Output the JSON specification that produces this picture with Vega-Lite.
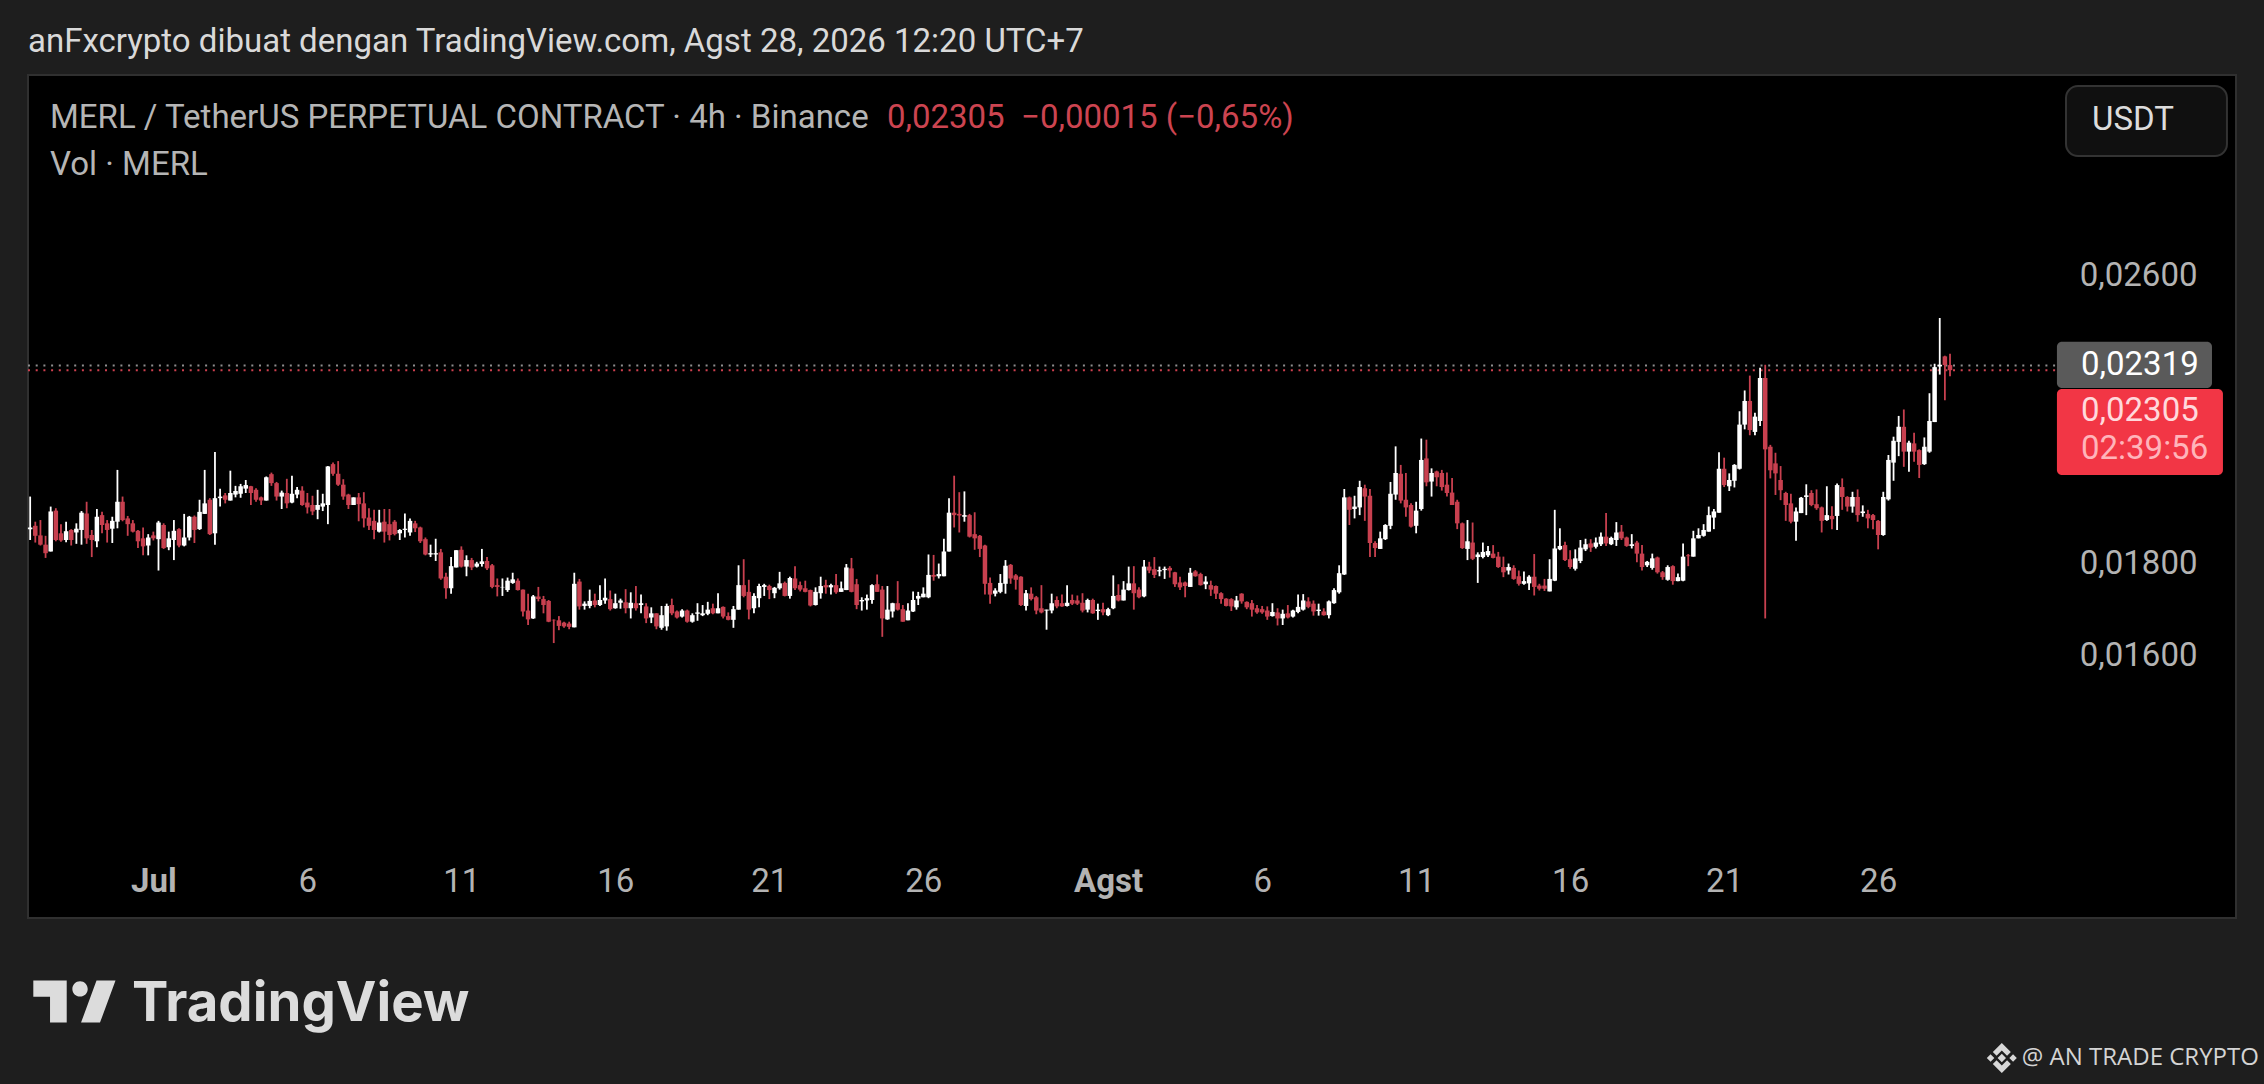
{
"$schema":"https://vega.github.io/schema/vega-lite/v6.json",
"width":2208,"height":843,
"autosize":{"type":"none"},
"padding":{"left":28,"top":75,"right":28,"bottom":166},
"background":"#1e1e1e",
"view":{"fill":"#000000","stroke":"#303030","strokeWidth":2},
"title":{"text":"anFxcrypto dibuat dengan TradingView.com, Agst 28, 2026 12:20 UTC+7","anchor":"start","frame":"group","font":"Roboto","fontSize":33,"fontWeight":"normal","color":"#d9d9d9","offset":16},
"config":{"font":"Roboto"},
"datasets":{"candles":[
{"t":"2026-06-27T03:00Z","o":0.01881,"h":0.01961,"l":0.01855,"c":0.01885},
{"t":"2026-06-27T07:00Z","o":0.01889,"h":0.01899,"l":0.01849,"c":0.01865},
{"t":"2026-06-27T11:00Z","o":0.01866,"h":0.01903,"l":0.01842,"c":0.01844},
{"t":"2026-06-27T15:00Z","o":0.01844,"h":0.01865,"l":0.01813,"c":0.01824},
{"t":"2026-06-27T19:00Z","o":0.01828,"h":0.01936,"l":0.01828,"c":0.01924},
{"t":"2026-06-27T23:00Z","o":0.01926,"h":0.01932,"l":0.01852,"c":0.01855},
{"t":"2026-06-28T03:00Z","o":0.01871,"h":0.01893,"l":0.01851,"c":0.01854},
{"t":"2026-06-28T07:00Z","o":0.01855,"h":0.01899,"l":0.01850,"c":0.01876},
{"t":"2026-06-28T11:00Z","o":0.01879,"h":0.01881,"l":0.01842,"c":0.01855},
{"t":"2026-06-28T15:00Z","o":0.01873,"h":0.01895,"l":0.01846,"c":0.01882},
{"t":"2026-06-28T19:00Z","o":0.01879,"h":0.01925,"l":0.01844,"c":0.01921},
{"t":"2026-06-28T23:00Z","o":0.01919,"h":0.01948,"l":0.01846,"c":0.01859},
{"t":"2026-06-29T03:00Z","o":0.01867,"h":0.01879,"l":0.01815,"c":0.01855},
{"t":"2026-06-29T07:00Z","o":0.01852,"h":0.01930,"l":0.01838,"c":0.01911},
{"t":"2026-06-29T11:00Z","o":0.01915,"h":0.01923,"l":0.01871,"c":0.01891},
{"t":"2026-06-29T15:00Z","o":0.01895,"h":0.01903,"l":0.01849,"c":0.01879},
{"t":"2026-06-29T19:00Z","o":0.01882,"h":0.01911,"l":0.01848,"c":0.01901},
{"t":"2026-06-29T23:00Z","o":0.01899,"h":0.02029,"l":0.01883,"c":0.01948},
{"t":"2026-06-30T03:00Z","o":0.01948,"h":0.01961,"l":0.01900,"c":0.01903},
{"t":"2026-06-30T07:00Z","o":0.01907,"h":0.01913,"l":0.01865,"c":0.01893},
{"t":"2026-06-30T11:00Z","o":0.01895,"h":0.01903,"l":0.01873,"c":0.01875},
{"t":"2026-06-30T15:00Z","o":0.01877,"h":0.01879,"l":0.01836,"c":0.01852},
{"t":"2026-06-30T19:00Z","o":0.01859,"h":0.01885,"l":0.01819,"c":0.01840},
{"t":"2026-06-30T23:00Z","o":0.01842,"h":0.01869,"l":0.01819,"c":0.01861},
{"t":"2026-07-01T03:00Z","o":0.01866,"h":0.01875,"l":0.01854,"c":0.01859},
{"t":"2026-07-01T07:00Z","o":0.01857,"h":0.01901,"l":0.01784,"c":0.01897},
{"t":"2026-07-01T11:00Z","o":0.01891,"h":0.01895,"l":0.01834,"c":0.01836},
{"t":"2026-07-01T15:00Z","o":0.01838,"h":0.01875,"l":0.01831,"c":0.01859},
{"t":"2026-07-01T19:00Z","o":0.01855,"h":0.01903,"l":0.01808,"c":0.01877},
{"t":"2026-07-01T23:00Z","o":0.01881,"h":0.01883,"l":0.01838,"c":0.01842},
{"t":"2026-07-02T03:00Z","o":0.01842,"h":0.01918,"l":0.01840,"c":0.01861},
{"t":"2026-07-02T07:00Z","o":0.01861,"h":0.01913,"l":0.01854,"c":0.01911},
{"t":"2026-07-02T11:00Z","o":0.01911,"h":0.01914,"l":0.01848,"c":0.01879},
{"t":"2026-07-02T15:00Z","o":0.01881,"h":0.01953,"l":0.01879,"c":0.01923},
{"t":"2026-07-02T19:00Z","o":0.01918,"h":0.02029,"l":0.01918,"c":0.01944},
{"t":"2026-07-02T23:00Z","o":0.01953,"h":0.01957,"l":0.01867,"c":0.01869},
{"t":"2026-07-03T03:00Z","o":0.01871,"h":0.02076,"l":0.01844,"c":0.01957},
{"t":"2026-07-03T07:00Z","o":0.01957,"h":0.01981,"l":0.01936,"c":0.01961},
{"t":"2026-07-03T11:00Z","o":0.01964,"h":0.01970,"l":0.01944,"c":0.01953},
{"t":"2026-07-03T15:00Z","o":0.01951,"h":0.02027,"l":0.01951,"c":0.01970},
{"t":"2026-07-03T19:00Z","o":0.01966,"h":0.01988,"l":0.01959,"c":0.01975},
{"t":"2026-07-03T23:00Z","o":0.01968,"h":0.01993,"l":0.01958,"c":0.01987},
{"t":"2026-07-04T03:00Z","o":0.01981,"h":0.02003,"l":0.01970,"c":0.01990},
{"t":"2026-07-04T07:00Z","o":0.01987,"h":0.01988,"l":0.01940,"c":0.01970},
{"t":"2026-07-04T11:00Z","o":0.01978,"h":0.01982,"l":0.01948,"c":0.01953},
{"t":"2026-07-04T15:00Z","o":0.01959,"h":0.01961,"l":0.01940,"c":0.01951},
{"t":"2026-07-04T19:00Z","o":0.01951,"h":0.02012,"l":0.01951,"c":0.02010},
{"t":"2026-07-04T23:00Z","o":0.02018,"h":0.02022,"l":0.01988,"c":0.01995},
{"t":"2026-07-05T03:00Z","o":0.01995,"h":0.01998,"l":0.01951,"c":0.01961},
{"t":"2026-07-05T07:00Z","o":0.01961,"h":0.01976,"l":0.01930,"c":0.01971},
{"t":"2026-07-05T11:00Z","o":0.01970,"h":0.02006,"l":0.01932,"c":0.01944},
{"t":"2026-07-05T15:00Z","o":0.01946,"h":0.02014,"l":0.01944,"c":0.01968},
{"t":"2026-07-05T19:00Z","o":0.01966,"h":0.01985,"l":0.01957,"c":0.01978},
{"t":"2026-07-05T23:00Z","o":0.01976,"h":0.01987,"l":0.01938,"c":0.01940},
{"t":"2026-07-06T03:00Z","o":0.01946,"h":0.01970,"l":0.01919,"c":0.01934},
{"t":"2026-07-06T07:00Z","o":0.01940,"h":0.01963,"l":0.01915,"c":0.01924},
{"t":"2026-07-06T11:00Z","o":0.01928,"h":0.01978,"l":0.01905,"c":0.01940},
{"t":"2026-07-06T15:00Z","o":0.01936,"h":0.01968,"l":0.01925,"c":0.01944},
{"t":"2026-07-06T19:00Z","o":0.01940,"h":0.02039,"l":0.01893,"c":0.02038},
{"t":"2026-07-06T23:00Z","o":0.02044,"h":0.02048,"l":0.02014,"c":0.02019},
{"t":"2026-07-07T03:00Z","o":0.02019,"h":0.02052,"l":0.01988,"c":0.01991},
{"t":"2026-07-07T07:00Z","o":0.01991,"h":0.02005,"l":0.01953,"c":0.01961},
{"t":"2026-07-07T11:00Z","o":0.01966,"h":0.01968,"l":0.01930,"c":0.01940},
{"t":"2026-07-07T15:00Z","o":0.01940,"h":0.01959,"l":0.01940,"c":0.01959},
{"t":"2026-07-07T19:00Z","o":0.01959,"h":0.01970,"l":0.01900,"c":0.01942},
{"t":"2026-07-07T23:00Z","o":0.01944,"h":0.01972,"l":0.01885,"c":0.01907},
{"t":"2026-07-08T03:00Z","o":0.01909,"h":0.01932,"l":0.01879,"c":0.01889},
{"t":"2026-07-08T07:00Z","o":0.01901,"h":0.01928,"l":0.01857,"c":0.01879},
{"t":"2026-07-08T11:00Z","o":0.01875,"h":0.01928,"l":0.01873,"c":0.01897},
{"t":"2026-07-08T15:00Z","o":0.01899,"h":0.01930,"l":0.01849,"c":0.01875},
{"t":"2026-07-08T19:00Z","o":0.01893,"h":0.01930,"l":0.01854,"c":0.01867},
{"t":"2026-07-08T23:00Z","o":0.01899,"h":0.01903,"l":0.01866,"c":0.01869},
{"t":"2026-07-09T03:00Z","o":0.01871,"h":0.01881,"l":0.01855,"c":0.01879},
{"t":"2026-07-09T07:00Z","o":0.01879,"h":0.01919,"l":0.01861,"c":0.01882},
{"t":"2026-07-09T11:00Z","o":0.01873,"h":0.01907,"l":0.01865,"c":0.01901},
{"t":"2026-07-09T15:00Z","o":0.01895,"h":0.01901,"l":0.01874,"c":0.01883},
{"t":"2026-07-09T19:00Z","o":0.01885,"h":0.01887,"l":0.01848,"c":0.01852},
{"t":"2026-07-09T23:00Z","o":0.01857,"h":0.01861,"l":0.01819,"c":0.01821},
{"t":"2026-07-10T03:00Z","o":0.01821,"h":0.01844,"l":0.01815,"c":0.01824},
{"t":"2026-07-10T07:00Z","o":0.01821,"h":0.01858,"l":0.01806,"c":0.01824},
{"t":"2026-07-10T11:00Z","o":0.01826,"h":0.01834,"l":0.01763,"c":0.01766},
{"t":"2026-07-10T15:00Z","o":0.01770,"h":0.01779,"l":0.01721,"c":0.01744},
{"t":"2026-07-10T19:00Z","o":0.01744,"h":0.01815,"l":0.01732,"c":0.01794},
{"t":"2026-07-10T23:00Z","o":0.01791,"h":0.01831,"l":0.01791,"c":0.01831},
{"t":"2026-07-11T03:00Z","o":0.01832,"h":0.01840,"l":0.01791,"c":0.01793},
{"t":"2026-07-11T07:00Z","o":0.01793,"h":0.01819,"l":0.01771,"c":0.01808},
{"t":"2026-07-11T11:00Z","o":0.01808,"h":0.01813,"l":0.01785,"c":0.01791},
{"t":"2026-07-11T15:00Z","o":0.01793,"h":0.01804,"l":0.01791,"c":0.01800},
{"t":"2026-07-11T19:00Z","o":0.01799,"h":0.01834,"l":0.01793,"c":0.01805},
{"t":"2026-07-11T23:00Z","o":0.01806,"h":0.01815,"l":0.01785,"c":0.01789},
{"t":"2026-07-12T03:00Z","o":0.01796,"h":0.01799,"l":0.01744,"c":0.01747},
{"t":"2026-07-12T07:00Z","o":0.01751,"h":0.01766,"l":0.01726,"c":0.01747},
{"t":"2026-07-12T11:00Z","o":0.01746,"h":0.01766,"l":0.01727,"c":0.01747},
{"t":"2026-07-12T15:00Z","o":0.01740,"h":0.01768,"l":0.01736,"c":0.01761},
{"t":"2026-07-12T19:00Z","o":0.01756,"h":0.01779,"l":0.01754,"c":0.01764},
{"t":"2026-07-12T23:00Z","o":0.01761,"h":0.01766,"l":0.01739,"c":0.01740},
{"t":"2026-07-13T03:00Z","o":0.01741,"h":0.01741,"l":0.01682,"c":0.01693},
{"t":"2026-07-13T07:00Z","o":0.01695,"h":0.01732,"l":0.01664,"c":0.01676},
{"t":"2026-07-13T11:00Z","o":0.01678,"h":0.01729,"l":0.01677,"c":0.01726},
{"t":"2026-07-13T15:00Z","o":0.01726,"h":0.01747,"l":0.01715,"c":0.01720},
{"t":"2026-07-13T19:00Z","o":0.01720,"h":0.01727,"l":0.01689,"c":0.01707},
{"t":"2026-07-13T23:00Z","o":0.01716,"h":0.01718,"l":0.01670,"c":0.01671},
{"t":"2026-07-14T03:00Z","o":0.01675,"h":0.01676,"l":0.01626,"c":0.01674},
{"t":"2026-07-14T07:00Z","o":0.01674,"h":0.01683,"l":0.01653,"c":0.01662},
{"t":"2026-07-14T11:00Z","o":0.01669,"h":0.01671,"l":0.01658,"c":0.01661},
{"t":"2026-07-14T15:00Z","o":0.01667,"h":0.01671,"l":0.01655,"c":0.01660},
{"t":"2026-07-14T19:00Z","o":0.01659,"h":0.01779,"l":0.01659,"c":0.01754},
{"t":"2026-07-14T23:00Z","o":0.01759,"h":0.01765,"l":0.01697,"c":0.01704},
{"t":"2026-07-15T03:00Z","o":0.01705,"h":0.01715,"l":0.01697,"c":0.01710},
{"t":"2026-07-15T07:00Z","o":0.01705,"h":0.01741,"l":0.01700,"c":0.01716},
{"t":"2026-07-15T11:00Z","o":0.01717,"h":0.01732,"l":0.01702,"c":0.01707},
{"t":"2026-07-15T15:00Z","o":0.01707,"h":0.01751,"l":0.01705,"c":0.01718},
{"t":"2026-07-15T19:00Z","o":0.01717,"h":0.01766,"l":0.01710,"c":0.01723},
{"t":"2026-07-15T23:00Z","o":0.01720,"h":0.01739,"l":0.01695,"c":0.01698},
{"t":"2026-07-16T03:00Z","o":0.01700,"h":0.01732,"l":0.01699,"c":0.01711},
{"t":"2026-07-16T07:00Z","o":0.01712,"h":0.01721,"l":0.01699,"c":0.01717},
{"t":"2026-07-16T11:00Z","o":0.01713,"h":0.01742,"l":0.01689,"c":0.01700},
{"t":"2026-07-16T15:00Z","o":0.01700,"h":0.01735,"l":0.01678,"c":0.01712},
{"t":"2026-07-16T19:00Z","o":0.01711,"h":0.01749,"l":0.01695,"c":0.01700},
{"t":"2026-07-16T23:00Z","o":0.01707,"h":0.01730,"l":0.01689,"c":0.01711},
{"t":"2026-07-17T03:00Z","o":0.01704,"h":0.01711,"l":0.01668,"c":0.01678},
{"t":"2026-07-17T07:00Z","o":0.01680,"h":0.01702,"l":0.01668,"c":0.01689},
{"t":"2026-07-17T11:00Z","o":0.01689,"h":0.01689,"l":0.01655,"c":0.01661},
{"t":"2026-07-17T15:00Z","o":0.01658,"h":0.01705,"l":0.01654,"c":0.01685},
{"t":"2026-07-17T19:00Z","o":0.01661,"h":0.01710,"l":0.01652,"c":0.01705},
{"t":"2026-07-17T23:00Z","o":0.01707,"h":0.01721,"l":0.01685,"c":0.01689},
{"t":"2026-07-18T03:00Z","o":0.01693,"h":0.01695,"l":0.01678,"c":0.01680},
{"t":"2026-07-18T07:00Z","o":0.01682,"h":0.01698,"l":0.01680,"c":0.01695},
{"t":"2026-07-18T11:00Z","o":0.01695,"h":0.01697,"l":0.01669,"c":0.01671},
{"t":"2026-07-18T15:00Z","o":0.01671,"h":0.01689,"l":0.01669,"c":0.01685},
{"t":"2026-07-18T19:00Z","o":0.01688,"h":0.01711,"l":0.01673,"c":0.01691},
{"t":"2026-07-18T23:00Z","o":0.01685,"h":0.01707,"l":0.01683,"c":0.01689},
{"t":"2026-07-19T03:00Z","o":0.01688,"h":0.01714,"l":0.01685,"c":0.01697},
{"t":"2026-07-19T07:00Z","o":0.01700,"h":0.01710,"l":0.01687,"c":0.01689},
{"t":"2026-07-19T11:00Z","o":0.01689,"h":0.01733,"l":0.01689,"c":0.01700},
{"t":"2026-07-19T15:00Z","o":0.01703,"h":0.01704,"l":0.01678,"c":0.01682},
{"t":"2026-07-19T19:00Z","o":0.01683,"h":0.01691,"l":0.01674,"c":0.01675},
{"t":"2026-07-19T23:00Z","o":0.01675,"h":0.01705,"l":0.01658,"c":0.01698},
{"t":"2026-07-20T03:00Z","o":0.01697,"h":0.01796,"l":0.01697,"c":0.01751},
{"t":"2026-07-20T07:00Z","o":0.01751,"h":0.01810,"l":0.01724,"c":0.01727},
{"t":"2026-07-20T11:00Z","o":0.01736,"h":0.01763,"l":0.01676,"c":0.01697},
{"t":"2026-07-20T15:00Z","o":0.01700,"h":0.01733,"l":0.01689,"c":0.01727},
{"t":"2026-07-20T19:00Z","o":0.01722,"h":0.01754,"l":0.01702,"c":0.01749},
{"t":"2026-07-20T23:00Z","o":0.01747,"h":0.01754,"l":0.01727,"c":0.01751},
{"t":"2026-07-21T03:00Z","o":0.01749,"h":0.01752,"l":0.01720,"c":0.01740},
{"t":"2026-07-21T07:00Z","o":0.01733,"h":0.01747,"l":0.01722,"c":0.01745},
{"t":"2026-07-21T11:00Z","o":0.01744,"h":0.01781,"l":0.01741,"c":0.01755},
{"t":"2026-07-21T15:00Z","o":0.01756,"h":0.01759,"l":0.01726,"c":0.01727},
{"t":"2026-07-21T19:00Z","o":0.01727,"h":0.01770,"l":0.01721,"c":0.01767},
{"t":"2026-07-21T23:00Z","o":0.01766,"h":0.01794,"l":0.01740,"c":0.01744},
{"t":"2026-07-22T03:00Z","o":0.01751,"h":0.01759,"l":0.01737,"c":0.01741},
{"t":"2026-07-22T07:00Z","o":0.01744,"h":0.01761,"l":0.01735,"c":0.01736},
{"t":"2026-07-22T11:00Z","o":0.01740,"h":0.01741,"l":0.01704,"c":0.01706},
{"t":"2026-07-22T15:00Z","o":0.01707,"h":0.01746,"l":0.01706,"c":0.01736},
{"t":"2026-07-22T19:00Z","o":0.01733,"h":0.01770,"l":0.01721,"c":0.01749},
{"t":"2026-07-22T23:00Z","o":0.01751,"h":0.01763,"l":0.01732,"c":0.01746},
{"t":"2026-07-23T03:00Z","o":0.01746,"h":0.01754,"l":0.01730,"c":0.01751},
{"t":"2026-07-23T07:00Z","o":0.01751,"h":0.01776,"l":0.01732,"c":0.01735},
{"t":"2026-07-23T11:00Z","o":0.01736,"h":0.01759,"l":0.01736,"c":0.01744},
{"t":"2026-07-23T15:00Z","o":0.01740,"h":0.01799,"l":0.01740,"c":0.01791},
{"t":"2026-07-23T19:00Z","o":0.01789,"h":0.01813,"l":0.01735,"c":0.01736},
{"t":"2026-07-23T23:00Z","o":0.01753,"h":0.01765,"l":0.01698,"c":0.01707},
{"t":"2026-07-24T03:00Z","o":0.01715,"h":0.01724,"l":0.01695,"c":0.01718},
{"t":"2026-07-24T07:00Z","o":0.01717,"h":0.01730,"l":0.01697,"c":0.01722},
{"t":"2026-07-24T11:00Z","o":0.01718,"h":0.01753,"l":0.01710,"c":0.01751},
{"t":"2026-07-24T15:00Z","o":0.01753,"h":0.01775,"l":0.01736,"c":0.01736},
{"t":"2026-07-24T19:00Z","o":0.01741,"h":0.01749,"l":0.01639,"c":0.01678},
{"t":"2026-07-24T23:00Z","o":0.01676,"h":0.01749,"l":0.01675,"c":0.01697},
{"t":"2026-07-25T03:00Z","o":0.01693,"h":0.01712,"l":0.01680,"c":0.01711},
{"t":"2026-07-25T07:00Z","o":0.01711,"h":0.01760,"l":0.01695,"c":0.01697},
{"t":"2026-07-25T11:00Z","o":0.01698,"h":0.01707,"l":0.01671,"c":0.01671},
{"t":"2026-07-25T15:00Z","o":0.01674,"h":0.01711,"l":0.01674,"c":0.01695},
{"t":"2026-07-25T19:00Z","o":0.01693,"h":0.01737,"l":0.01692,"c":0.01718},
{"t":"2026-07-25T23:00Z","o":0.01721,"h":0.01736,"l":0.01707,"c":0.01727},
{"t":"2026-07-26T03:00Z","o":0.01724,"h":0.01746,"l":0.01724,"c":0.01732},
{"t":"2026-07-26T07:00Z","o":0.01724,"h":0.01821,"l":0.01722,"c":0.01774},
{"t":"2026-07-26T11:00Z","o":0.01774,"h":0.01820,"l":0.01761,"c":0.01770},
{"t":"2026-07-26T15:00Z","o":0.01771,"h":0.01800,"l":0.01766,"c":0.01776},
{"t":"2026-07-26T19:00Z","o":0.01771,"h":0.01858,"l":0.01771,"c":0.01828},
{"t":"2026-07-26T23:00Z","o":0.01828,"h":0.01957,"l":0.01828,"c":0.01921},
{"t":"2026-07-27T03:00Z","o":0.01921,"h":0.02014,"l":0.01885,"c":0.01915},
{"t":"2026-07-27T07:00Z","o":0.01918,"h":0.01972,"l":0.01873,"c":0.01914},
{"t":"2026-07-27T11:00Z","o":0.01911,"h":0.01974,"l":0.01899,"c":0.01915},
{"t":"2026-07-27T15:00Z","o":0.01915,"h":0.01918,"l":0.01861,"c":0.01863},
{"t":"2026-07-27T19:00Z","o":0.01869,"h":0.01922,"l":0.01832,"c":0.01859},
{"t":"2026-07-27T23:00Z","o":0.01865,"h":0.01867,"l":0.01815,"c":0.01834},
{"t":"2026-07-28T03:00Z","o":0.01842,"h":0.01844,"l":0.01730,"c":0.01754},
{"t":"2026-07-28T07:00Z","o":0.01756,"h":0.01768,"l":0.01710,"c":0.01730},
{"t":"2026-07-28T11:00Z","o":0.01732,"h":0.01744,"l":0.01726,"c":0.01739},
{"t":"2026-07-28T15:00Z","o":0.01736,"h":0.01776,"l":0.01733,"c":0.01756},
{"t":"2026-07-28T19:00Z","o":0.01754,"h":0.01808,"l":0.01732,"c":0.01795},
{"t":"2026-07-28T23:00Z","o":0.01797,"h":0.01799,"l":0.01754,"c":0.01766},
{"t":"2026-07-29T03:00Z","o":0.01773,"h":0.01776,"l":0.01741,"c":0.01763},
{"t":"2026-07-29T07:00Z","o":0.01770,"h":0.01771,"l":0.01705,"c":0.01707},
{"t":"2026-07-29T11:00Z","o":0.01705,"h":0.01740,"l":0.01695,"c":0.01733},
{"t":"2026-07-29T15:00Z","o":0.01732,"h":0.01746,"l":0.01717,"c":0.01720},
{"t":"2026-07-29T19:00Z","o":0.01724,"h":0.01727,"l":0.01687,"c":0.01695},
{"t":"2026-07-29T23:00Z","o":0.01700,"h":0.01751,"l":0.01689,"c":0.01691},
{"t":"2026-07-30T03:00Z","o":0.01695,"h":0.01697,"l":0.01654,"c":0.01697},
{"t":"2026-07-30T07:00Z","o":0.01695,"h":0.01732,"l":0.01689,"c":0.01711},
{"t":"2026-07-30T11:00Z","o":0.01718,"h":0.01726,"l":0.01700,"c":0.01704},
{"t":"2026-07-30T15:00Z","o":0.01711,"h":0.01730,"l":0.01703,"c":0.01704},
{"t":"2026-07-30T19:00Z","o":0.01705,"h":0.01751,"l":0.01704,"c":0.01712},
{"t":"2026-07-30T23:00Z","o":0.01718,"h":0.01730,"l":0.01707,"c":0.01710},
{"t":"2026-07-31T03:00Z","o":0.01717,"h":0.01728,"l":0.01707,"c":0.01710},
{"t":"2026-07-31T07:00Z","o":0.01712,"h":0.01733,"l":0.01691,"c":0.01695},
{"t":"2026-07-31T11:00Z","o":0.01697,"h":0.01721,"l":0.01691,"c":0.01718},
{"t":"2026-07-31T15:00Z","o":0.01718,"h":0.01721,"l":0.01688,"c":0.01689},
{"t":"2026-07-31T19:00Z","o":0.01694,"h":0.01710,"l":0.01675,"c":0.01697},
{"t":"2026-07-31T23:00Z","o":0.01698,"h":0.01712,"l":0.01685,"c":0.01691},
{"t":"2026-08-01T03:00Z","o":0.01685,"h":0.01701,"l":0.01683,"c":0.01698},
{"t":"2026-08-01T07:00Z","o":0.01700,"h":0.01773,"l":0.01698,"c":0.01727},
{"t":"2026-08-01T11:00Z","o":0.01729,"h":0.01753,"l":0.01715,"c":0.01717},
{"t":"2026-08-01T15:00Z","o":0.01717,"h":0.01760,"l":0.01717,"c":0.01741},
{"t":"2026-08-01T19:00Z","o":0.01740,"h":0.01793,"l":0.01739,"c":0.01755},
{"t":"2026-08-01T23:00Z","o":0.01755,"h":0.01794,"l":0.01697,"c":0.01733},
{"t":"2026-08-02T03:00Z","o":0.01741,"h":0.01746,"l":0.01722,"c":0.01724},
{"t":"2026-08-02T07:00Z","o":0.01726,"h":0.01808,"l":0.01724,"c":0.01793},
{"t":"2026-08-02T11:00Z","o":0.01793,"h":0.01804,"l":0.01778,"c":0.01784},
{"t":"2026-08-02T15:00Z","o":0.01787,"h":0.01815,"l":0.01767,"c":0.01774},
{"t":"2026-08-02T19:00Z","o":0.01782,"h":0.01793,"l":0.01771,"c":0.01785},
{"t":"2026-08-02T23:00Z","o":0.01785,"h":0.01793,"l":0.01765,"c":0.01788},
{"t":"2026-08-03T03:00Z","o":0.01790,"h":0.01794,"l":0.01768,"c":0.01784},
{"t":"2026-08-03T07:00Z","o":0.01780,"h":0.01781,"l":0.01747,"c":0.01753},
{"t":"2026-08-03T11:00Z","o":0.01757,"h":0.01770,"l":0.01740,"c":0.01746},
{"t":"2026-08-03T15:00Z","o":0.01757,"h":0.01759,"l":0.01724,"c":0.01749},
{"t":"2026-08-03T19:00Z","o":0.01747,"h":0.01790,"l":0.01747,"c":0.01779},
{"t":"2026-08-03T23:00Z","o":0.01782,"h":0.01785,"l":0.01770,"c":0.01771},
{"t":"2026-08-04T03:00Z","o":0.01776,"h":0.01779,"l":0.01750,"c":0.01751},
{"t":"2026-08-04T07:00Z","o":0.01753,"h":0.01771,"l":0.01742,"c":0.01759},
{"t":"2026-08-04T11:00Z","o":0.01751,"h":0.01761,"l":0.01727,"c":0.01741},
{"t":"2026-08-04T15:00Z","o":0.01749,"h":0.01750,"l":0.01720,"c":0.01732},
{"t":"2026-08-04T19:00Z","o":0.01733,"h":0.01735,"l":0.01710,"c":0.01720},
{"t":"2026-08-04T23:00Z","o":0.01721,"h":0.01722,"l":0.01704,"c":0.01705},
{"t":"2026-08-05T03:00Z","o":0.01720,"h":0.01722,"l":0.01694,"c":0.01704},
{"t":"2026-08-05T07:00Z","o":0.01702,"h":0.01727,"l":0.01697,"c":0.01717},
{"t":"2026-08-05T11:00Z","o":0.01732,"h":0.01733,"l":0.01710,"c":0.01715},
{"t":"2026-08-05T15:00Z","o":0.01714,"h":0.01715,"l":0.01698,"c":0.01702},
{"t":"2026-08-05T19:00Z","o":0.01711,"h":0.01718,"l":0.01682,"c":0.01697},
{"t":"2026-08-05T23:00Z","o":0.01700,"h":0.01707,"l":0.01688,"c":0.01691},
{"t":"2026-08-06T03:00Z","o":0.01698,"h":0.01705,"l":0.01688,"c":0.01691},
{"t":"2026-08-06T07:00Z","o":0.01695,"h":0.01704,"l":0.01675,"c":0.01682},
{"t":"2026-08-06T11:00Z","o":0.01683,"h":0.01711,"l":0.01682,"c":0.01692},
{"t":"2026-08-06T15:00Z","o":0.01691,"h":0.01700,"l":0.01663,"c":0.01678},
{"t":"2026-08-06T19:00Z","o":0.01678,"h":0.01697,"l":0.01664,"c":0.01688},
{"t":"2026-08-06T23:00Z","o":0.01689,"h":0.01707,"l":0.01678,"c":0.01680},
{"t":"2026-08-07T03:00Z","o":0.01682,"h":0.01697,"l":0.01680,"c":0.01695},
{"t":"2026-08-07T07:00Z","o":0.01692,"h":0.01730,"l":0.01689,"c":0.01703},
{"t":"2026-08-07T11:00Z","o":0.01697,"h":0.01731,"l":0.01695,"c":0.01717},
{"t":"2026-08-07T15:00Z","o":0.01715,"h":0.01724,"l":0.01700,"c":0.01703},
{"t":"2026-08-07T19:00Z","o":0.01710,"h":0.01717,"l":0.01684,"c":0.01693},
{"t":"2026-08-07T23:00Z","o":0.01694,"h":0.01710,"l":0.01684,"c":0.01697},
{"t":"2026-08-08T03:00Z","o":0.01693,"h":0.01700,"l":0.01684,"c":0.01685},
{"t":"2026-08-08T07:00Z","o":0.01685,"h":0.01717,"l":0.01678,"c":0.01715},
{"t":"2026-08-08T11:00Z","o":0.01711,"h":0.01744,"l":0.01710,"c":0.01740},
{"t":"2026-08-08T15:00Z","o":0.01735,"h":0.01796,"l":0.01732,"c":0.01778},
{"t":"2026-08-08T19:00Z","o":0.01775,"h":0.01980,"l":0.01774,"c":0.01959},
{"t":"2026-08-08T23:00Z","o":0.01959,"h":0.01961,"l":0.01891,"c":0.01928},
{"t":"2026-08-09T03:00Z","o":0.01930,"h":0.01963,"l":0.01907,"c":0.01936},
{"t":"2026-08-09T07:00Z","o":0.01934,"h":0.02001,"l":0.01915,"c":0.01985},
{"t":"2026-08-09T11:00Z","o":0.01982,"h":0.01991,"l":0.01901,"c":0.01961},
{"t":"2026-08-09T15:00Z","o":0.01963,"h":0.01980,"l":0.01815,"c":0.01848},
{"t":"2026-08-09T19:00Z","o":0.01848,"h":0.01852,"l":0.01815,"c":0.01836},
{"t":"2026-08-09T23:00Z","o":0.01834,"h":0.01875,"l":0.01834,"c":0.01859},
{"t":"2026-08-10T03:00Z","o":0.01857,"h":0.01893,"l":0.01855,"c":0.01891},
{"t":"2026-08-10T07:00Z","o":0.01889,"h":0.01998,"l":0.01881,"c":0.01968},
{"t":"2026-08-10T11:00Z","o":0.01966,"h":0.02091,"l":0.01953,"c":0.02021},
{"t":"2026-08-10T15:00Z","o":0.02019,"h":0.02042,"l":0.01944,"c":0.01951},
{"t":"2026-08-10T19:00Z","o":0.01953,"h":0.02021,"l":0.01911,"c":0.01934},
{"t":"2026-08-10T23:00Z","o":0.01940,"h":0.01944,"l":0.01885,"c":0.01887},
{"t":"2026-08-11T03:00Z","o":0.01889,"h":0.01948,"l":0.01871,"c":0.01926},
{"t":"2026-08-11T07:00Z","o":0.01930,"h":0.02112,"l":0.01926,"c":0.02055},
{"t":"2026-08-11T11:00Z","o":0.02059,"h":0.02109,"l":0.01987,"c":0.01997},
{"t":"2026-08-11T15:00Z","o":0.01999,"h":0.02033,"l":0.01961,"c":0.02021},
{"t":"2026-08-11T19:00Z","o":0.02025,"h":0.02027,"l":0.01987,"c":0.02010},
{"t":"2026-08-11T23:00Z","o":0.02021,"h":0.02029,"l":0.01976,"c":0.01985},
{"t":"2026-08-12T03:00Z","o":0.01991,"h":0.02022,"l":0.01961,"c":0.01970},
{"t":"2026-08-12T07:00Z","o":0.01971,"h":0.02008,"l":0.01940,"c":0.01940},
{"t":"2026-08-12T11:00Z","o":0.01948,"h":0.01953,"l":0.01881,"c":0.01895},
{"t":"2026-08-12T15:00Z","o":0.01895,"h":0.01897,"l":0.01834,"c":0.01836},
{"t":"2026-08-12T19:00Z","o":0.01834,"h":0.01903,"l":0.01808,"c":0.01852},
{"t":"2026-08-12T23:00Z","o":0.01849,"h":0.01897,"l":0.01808,"c":0.01811},
{"t":"2026-08-13T03:00Z","o":0.01815,"h":0.01826,"l":0.01756,"c":0.01821},
{"t":"2026-08-13T07:00Z","o":0.01815,"h":0.01849,"l":0.01812,"c":0.01827},
{"t":"2026-08-13T11:00Z","o":0.01819,"h":0.01841,"l":0.01815,"c":0.01829},
{"t":"2026-08-13T15:00Z","o":0.01823,"h":0.01843,"l":0.01812,"c":0.01813},
{"t":"2026-08-13T19:00Z","o":0.01816,"h":0.01827,"l":0.01790,"c":0.01792},
{"t":"2026-08-13T23:00Z","o":0.01792,"h":0.01816,"l":0.01769,"c":0.01780},
{"t":"2026-08-14T03:00Z","o":0.01784,"h":0.01800,"l":0.01775,"c":0.01792},
{"t":"2026-08-14T07:00Z","o":0.01790,"h":0.01796,"l":0.01763,"c":0.01765},
{"t":"2026-08-14T11:00Z","o":0.01771,"h":0.01784,"l":0.01750,"c":0.01754},
{"t":"2026-08-14T15:00Z","o":0.01754,"h":0.01782,"l":0.01752,"c":0.01760},
{"t":"2026-08-14T19:00Z","o":0.01755,"h":0.01773,"l":0.01740,"c":0.01770},
{"t":"2026-08-14T23:00Z","o":0.01770,"h":0.01822,"l":0.01728,"c":0.01747},
{"t":"2026-08-15T03:00Z","o":0.01750,"h":0.01754,"l":0.01739,"c":0.01743},
{"t":"2026-08-15T07:00Z","o":0.01750,"h":0.01765,"l":0.01738,"c":0.01743},
{"t":"2026-08-15T11:00Z","o":0.01737,"h":0.01810,"l":0.01737,"c":0.01765},
{"t":"2026-08-15T15:00Z","o":0.01761,"h":0.01928,"l":0.01760,"c":0.01835},
{"t":"2026-08-15T19:00Z","o":0.01833,"h":0.01883,"l":0.01831,"c":0.01841},
{"t":"2026-08-15T23:00Z","o":0.01843,"h":0.01851,"l":0.01806,"c":0.01808},
{"t":"2026-08-16T03:00Z","o":0.01810,"h":0.01831,"l":0.01788,"c":0.01792},
{"t":"2026-08-16T07:00Z","o":0.01788,"h":0.01833,"l":0.01784,"c":0.01812},
{"t":"2026-08-16T11:00Z","o":0.01806,"h":0.01855,"l":0.01801,"c":0.01837},
{"t":"2026-08-16T15:00Z","o":0.01833,"h":0.01858,"l":0.01829,"c":0.01845},
{"t":"2026-08-16T19:00Z","o":0.01847,"h":0.01857,"l":0.01827,"c":0.01837},
{"t":"2026-08-16T23:00Z","o":0.01839,"h":0.01861,"l":0.01835,"c":0.01849},
{"t":"2026-08-17T03:00Z","o":0.01845,"h":0.01873,"l":0.01841,"c":0.01863},
{"t":"2026-08-17T07:00Z","o":0.01863,"h":0.01920,"l":0.01841,"c":0.01847},
{"t":"2026-08-17T11:00Z","o":0.01845,"h":0.01863,"l":0.01843,"c":0.01860},
{"t":"2026-08-17T15:00Z","o":0.01855,"h":0.01898,"l":0.01841,"c":0.01873},
{"t":"2026-08-17T19:00Z","o":0.01875,"h":0.01891,"l":0.01855,"c":0.01859},
{"t":"2026-08-17T23:00Z","o":0.01861,"h":0.01863,"l":0.01839,"c":0.01841},
{"t":"2026-08-18T03:00Z","o":0.01841,"h":0.01869,"l":0.01835,"c":0.01845},
{"t":"2026-08-18T07:00Z","o":0.01849,"h":0.01853,"l":0.01803,"c":0.01823},
{"t":"2026-08-18T11:00Z","o":0.01823,"h":0.01843,"l":0.01784,"c":0.01792},
{"t":"2026-08-18T15:00Z","o":0.01796,"h":0.01806,"l":0.01792,"c":0.01804},
{"t":"2026-08-18T19:00Z","o":0.01790,"h":0.01823,"l":0.01786,"c":0.01812},
{"t":"2026-08-18T23:00Z","o":0.01814,"h":0.01816,"l":0.01777,"c":0.01780},
{"t":"2026-08-19T03:00Z","o":0.01780,"h":0.01783,"l":0.01763,"c":0.01769},
{"t":"2026-08-19T07:00Z","o":0.01763,"h":0.01796,"l":0.01761,"c":0.01792},
{"t":"2026-08-19T11:00Z","o":0.01794,"h":0.01796,"l":0.01752,"c":0.01760},
{"t":"2026-08-19T15:00Z","o":0.01760,"h":0.01777,"l":0.01760,"c":0.01769},
{"t":"2026-08-19T19:00Z","o":0.01761,"h":0.01847,"l":0.01760,"c":0.01816},
{"t":"2026-08-19T23:00Z","o":0.01819,"h":0.01822,"l":0.01794,"c":0.01817},
{"t":"2026-08-20T03:00Z","o":0.01816,"h":0.01877,"l":0.01816,"c":0.01859},
{"t":"2026-08-20T07:00Z","o":0.01859,"h":0.01883,"l":0.01859,"c":0.01867},
{"t":"2026-08-20T11:00Z","o":0.01865,"h":0.01893,"l":0.01863,"c":0.01879},
{"t":"2026-08-20T15:00Z","o":0.01875,"h":0.01936,"l":0.01875,"c":0.01915},
{"t":"2026-08-20T19:00Z","o":0.01909,"h":0.01930,"l":0.01881,"c":0.01924},
{"t":"2026-08-20T23:00Z","o":0.01921,"h":0.02075,"l":0.01921,"c":0.02032},
{"t":"2026-08-21T03:00Z","o":0.02032,"h":0.02061,"l":0.01985,"c":0.01990},
{"t":"2026-08-21T07:00Z","o":0.01987,"h":0.02020,"l":0.01975,"c":0.02003},
{"t":"2026-08-21T11:00Z","o":0.02001,"h":0.02044,"l":0.01984,"c":0.02042},
{"t":"2026-08-21T15:00Z","o":0.02032,"h":0.02187,"l":0.02030,"c":0.02150},
{"t":"2026-08-21T19:00Z","o":0.02150,"h":0.02246,"l":0.02137,"c":0.02216},
{"t":"2026-08-21T23:00Z","o":0.02216,"h":0.02289,"l":0.02121,"c":0.02135},
{"t":"2026-08-22T03:00Z","o":0.02130,"h":0.02183,"l":0.02121,"c":0.02172},
{"t":"2026-08-22T07:00Z","o":0.02160,"h":0.02312,"l":0.02146,"c":0.02282},
{"t":"2026-08-22T11:00Z","o":0.02282,"h":0.02321,"l":0.01678,"c":0.02083},
{"t":"2026-08-22T15:00Z","o":0.02090,"h":0.02095,"l":0.02007,"c":0.02028},
{"t":"2026-08-22T19:00Z","o":0.02046,"h":0.02074,"l":0.01965,"c":0.02020},
{"t":"2026-08-22T23:00Z","o":0.02003,"h":0.02039,"l":0.01952,"c":0.01977},
{"t":"2026-08-23T03:00Z","o":0.01970,"h":0.01973,"l":0.01901,"c":0.01940},
{"t":"2026-08-23T07:00Z","o":0.01944,"h":0.01968,"l":0.01895,"c":0.01899},
{"t":"2026-08-23T11:00Z","o":0.01899,"h":0.01934,"l":0.01853,"c":0.01924},
{"t":"2026-08-23T15:00Z","o":0.01920,"h":0.01960,"l":0.01920,"c":0.01958},
{"t":"2026-08-23T19:00Z","o":0.01960,"h":0.01992,"l":0.01915,"c":0.01964},
{"t":"2026-08-23T23:00Z","o":0.01970,"h":0.01977,"l":0.01937,"c":0.01940},
{"t":"2026-08-24T03:00Z","o":0.01942,"h":0.01979,"l":0.01928,"c":0.01932},
{"t":"2026-08-24T07:00Z","o":0.01934,"h":0.01936,"l":0.01873,"c":0.01901},
{"t":"2026-08-24T11:00Z","o":0.01903,"h":0.01987,"l":0.01901,"c":0.01915},
{"t":"2026-08-24T15:00Z","o":0.01913,"h":0.01937,"l":0.01881,"c":0.01905},
{"t":"2026-08-24T19:00Z","o":0.01913,"h":0.01994,"l":0.01879,"c":0.01990},
{"t":"2026-08-24T23:00Z","o":0.01985,"h":0.02007,"l":0.01928,"c":0.01960},
{"t":"2026-08-25T03:00Z","o":0.01960,"h":0.01962,"l":0.01924,"c":0.01936},
{"t":"2026-08-25T07:00Z","o":0.01936,"h":0.01973,"l":0.01921,"c":0.01960},
{"t":"2026-08-25T11:00Z","o":0.01960,"h":0.01979,"l":0.01899,"c":0.01915},
{"t":"2026-08-25T15:00Z","o":0.01920,"h":0.01939,"l":0.01911,"c":0.01924},
{"t":"2026-08-25T19:00Z","o":0.01918,"h":0.01928,"l":0.01883,"c":0.01907},
{"t":"2026-08-25T23:00Z","o":0.01915,"h":0.01918,"l":0.01881,"c":0.01903},
{"t":"2026-08-26T03:00Z","o":0.01901,"h":0.01903,"l":0.01833,"c":0.01867},
{"t":"2026-08-26T07:00Z","o":0.01867,"h":0.01973,"l":0.01865,"c":0.01960},
{"t":"2026-08-26T11:00Z","o":0.01954,"h":0.02068,"l":0.01951,"c":0.02055},
{"t":"2026-08-26T15:00Z","o":0.02048,"h":0.02117,"l":0.02001,"c":0.02106},
{"t":"2026-08-26T19:00Z","o":0.02103,"h":0.02174,"l":0.02065,"c":0.02144},
{"t":"2026-08-26T23:00Z","o":0.02144,"h":0.02192,"l":0.02037,"c":0.02077},
{"t":"2026-08-27T03:00Z","o":0.02077,"h":0.02106,"l":0.02024,"c":0.02101},
{"t":"2026-08-27T07:00Z","o":0.02099,"h":0.02128,"l":0.02050,"c":0.02077},
{"t":"2026-08-27T11:00Z","o":0.02081,"h":0.02083,"l":0.02008,"c":0.02042},
{"t":"2026-08-27T15:00Z","o":0.02044,"h":0.02115,"l":0.02042,"c":0.02090},
{"t":"2026-08-27T19:00Z","o":0.02077,"h":0.02238,"l":0.02074,"c":0.02160},
{"t":"2026-08-27T23:00Z","o":0.02157,"h":0.02324,"l":0.02157,"c":0.02314},
{"t":"2026-08-28T03:00Z","o":0.02316,"h":0.02464,"l":0.02292,"c":0.02321},
{"t":"2026-08-28T07:00Z","o":0.02346,"h":0.02348,"l":0.02218,"c":0.02320},
{"t":"2026-08-28T11:00Z","o":0.02320,"h":0.02354,"l":0.02287,"c":0.02305}
]},
"layer":[
{"data":{"values":[{"s":"last close"}]},"mark":{"type":"rule","strokeDash":[2,5.7],"strokeWidth":2,"color":"#8e8e8e"},
"encoding":{"x":{"datum":{"year":2026,"month":"jun","date":27,"hours":1,"minutes":19,"utc":true},"type":"temporal"},"x2":{"datum":{"year":2026,"month":"aug","date":31,"hours":22,"minutes":0,"utc":true}},"y":{"datum":0.02319}}},
{"data":{"values":[{"s":"last price"}]},"mark":{"type":"rule","strokeDash":[2,5.7],"strokeWidth":2,"color":"#d0404f"},
"encoding":{"x":{"datum":{"year":2026,"month":"jun","date":27,"hours":1,"minutes":19,"utc":true},"type":"temporal"},"x2":{"datum":{"year":2026,"month":"aug","date":31,"hours":22,"minutes":0,"utc":true}},"y":{"datum":0.02305}}},
{"data":{"name":"candles"},
"encoding":{
"x":{"field":"t","type":"temporal","title":null,
"scale":{"type":"utc","domain":["2026-06-27T01:19Z","2026-09-06T17:51Z"],"nice":false,"padding":0},
"axis":{"orient":"bottom","grid":false,"domain":false,"ticks":false,"labelBaseline":"middle","labelPadding":-37,"labelFontSize":33,"labelFont":"Roboto","labelColor":"#b3b3b3","labelOverlap":false,"labelBound":false,"labelFlush":false,
"values":["2026-07-01T03:00Z","2026-07-06T03:00Z","2026-07-11T03:00Z","2026-07-16T03:00Z","2026-07-21T03:00Z","2026-07-26T03:00Z","2026-08-01T03:00Z","2026-08-06T03:00Z","2026-08-11T03:00Z","2026-08-16T03:00Z","2026-08-21T03:00Z","2026-08-26T03:00Z"],
"labelExpr":"utcdate(datum.value)==1?(utcmonth(datum.value)==6?'Jul':'Agst'):utcdate(datum.value)+''",
"labelFontWeight":{"condition":{"test":"utcdate(datum.value)==1","value":"bold"},"value":"normal"}}},
"y":{"type":"quantitative","title":null,
"scale":{"type":"log","domain":[0.01144,0.03362],"nice":false},
"axis":{"orient":"right","grid":false,"domain":false,"ticks":false,"values":[0.016,0.018,0.026],"labelAlign":"right","labelBaseline":"middle","labelPadding":-39,"labelOffset":-0.5,"labelFontSize":33,"labelFont":"Roboto","labelColor":"#b3b3b3","labelOverlap":false,"labelBound":false,"labelFlush":false,
"labelExpr":"replace(format(datum.value,'.5f'),'.',',')"}},
"color":{"condition":{"test":"datum.c>=datum.o","value":"#ffffff"},"value":"#c8404f"}
},
"layer":[
{"mark":{"type":"rule","strokeWidth":1.8},"encoding":{"y":{"field":"l"},"y2":{"field":"h"}}},
{"mark":{"type":"bar","size":4.5},"encoding":{"y":{"field":"o"},"y2":{"field":"c"}}}
]},
{"data":{"values":[{"s":"MERL / TetherUS PERPETUAL CONTRACT · 4h · Binance"}]},"mark":{"type":"text","align":"left","baseline":"middle","font":"Roboto","fontSize":33,"color":"#b5b5b5"},
"encoding":{"x":{"datum":{"year":2026,"month":"jun","date":27,"hours":18,"minutes":28,"utc":true},"type":"temporal"},"y":{"datum":0.03182},"text":{"field":"s"}}},
{"data":{"values":[{"s":"Vol · MERL"}]},"mark":{"type":"text","align":"left","baseline":"middle","font":"Roboto","fontSize":33,"color":"#b5b5b5"},
"encoding":{"x":{"datum":{"year":2026,"month":"jun","date":27,"hours":18,"minutes":28,"utc":true},"type":"temporal"},"y":{"datum":0.02998},"text":{"field":"s"}}},
{"data":{"values":[{"s":"0,02305\u00a0\u00a0−0,00015 (−0,65%)"}]},"mark":{"type":"text","align":"left","baseline":"middle","font":"Roboto","fontSize":33,"color":"#cc4450"},
"encoding":{"x":{"datum":{"year":2026,"month":"jul","date":24,"hours":22,"minutes":35,"utc":true},"type":"temporal"},"y":{"datum":0.03182},"text":{"field":"s"}}},
{"data":{"values":[{"s":"USDT"}]},"mark":{"type":"rect","cornerRadius":12,"fill":"#101010","stroke":"#333333","strokeWidth":2},
"encoding":{"x":{"datum":{"year":2026,"month":"sep","date":1,"hours":5,"minutes":23,"utc":true},"type":"temporal"},"x2":{"datum":{"year":2026,"month":"sep","date":6,"hours":10,"minutes":48,"utc":true}},"y":{"datum":0.03315},"y2":{"datum":0.03031}}},
{"data":{"values":[{"s":"USDT"}]},"mark":{"type":"text","align":"left","baseline":"middle","font":"Roboto","fontSize":33,"color":"#dcdcdc"},
"encoding":{"x":{"datum":{"year":2026,"month":"sep","date":2,"hours":1,"minutes":38,"utc":true},"type":"temporal"},"y":{"datum":0.03174},"text":{"field":"s"}}},
{"data":{"values":[{"s":"0,02319"}]},"mark":{"type":"rect","cornerRadius":5,"fill":"#5a5a5a"},
"encoding":{"x":{"datum":{"year":2026,"month":"aug","date":31,"hours":22,"minutes":19,"utc":true},"type":"temporal"},"x2":{"datum":{"year":2026,"month":"sep","date":5,"hours":23,"minutes":8,"utc":true}},"y":{"datum":0.0239},"y2":{"datum":0.02253}}},
{"data":{"values":[{"s":"0,02305"}]},"mark":{"type":"rect","cornerRadius":5,"fill":"#f23645"},
"encoding":{"x":{"datum":{"year":2026,"month":"aug","date":31,"hours":22,"minutes":19,"utc":true},"type":"temporal"},"x2":{"datum":{"year":2026,"month":"sep","date":6,"hours":7,"minutes":41,"utc":true}},"y":{"datum":0.0225},"y2":{"datum":0.02016}}},
{"data":{"values":[{"s":"0,02319"}]},"mark":{"type":"text","align":"left","baseline":"middle","font":"Roboto","fontSize":33,"color":"#ffffff"},
"encoding":{"x":{"datum":{"year":2026,"month":"sep","date":1,"hours":17,"minutes":2,"utc":true},"type":"temporal"},"y":{"datum":0.0232},"text":{"field":"s"}}},
{"data":{"values":[{"s":"0,02305"}]},"mark":{"type":"text","align":"left","baseline":"middle","font":"Roboto","fontSize":33,"color":"#ffd9dc"},
"encoding":{"x":{"datum":{"year":2026,"month":"sep","date":1,"hours":17,"minutes":2,"utc":true},"type":"temporal"},"y":{"datum":0.02189},"text":{"field":"s"}}},
{"data":{"values":[{"s":"02:39:56"}]},"mark":{"type":"text","align":"left","baseline":"middle","font":"Roboto","fontSize":33,"color":"#ffb4ba"},
"encoding":{"x":{"datum":{"year":2026,"month":"sep","date":1,"hours":17,"minutes":2,"utc":true},"type":"temporal"},"y":{"datum":0.02083},"text":{"field":"s"}}},
{"data":{"values":[{"s":"logo"}]},"mark":{"type":"point","filled":true,"opacity":1,"strokeWidth":0,"color":"#dcdcdc","size":6889,"shape":"M-0.993 -0.506L-0.188 -0.506L-0.188 0.506L-0.59 0.506L-0.59 -0.12L-0.993 -0.12ZM-0.052 -0.306A0.185 0.185 0 1 0 0.318 -0.306A0.185 0.185 0 1 0 -0.052 -0.306ZM0.53 -0.506L0.988 -0.506L0.614 0.506L0.157 0.506Z"},
"encoding":{"x":{"datum":{"year":2026,"month":"jun","date":28,"hours":13,"minutes":34,"utc":true},"type":"temporal"},"y":{"datum":0.01028}}},
{"data":{"values":[{"s":"TradingView"}]},"mark":{"type":"text","align":"left","baseline":"middle","font":"Inter","fontWeight":"bold","fontSize":54.5,"color":"#dcdcdc"},
"encoding":{"x":{"datum":{"year":2026,"month":"jun","date":30,"hours":10,"minutes":19,"utc":true},"type":"temporal"},"y":{"datum":0.01024},"text":{"field":"s"}}},
{"data":{"values":[{"s":"binance mark"}]},"mark":{"type":"point","filled":true,"opacity":1,"strokeWidth":0,"color":"#d8d8d8","size":900,"shape":"M-1 0L-0.75 -0.25L-0.5 0L-0.75 0.25ZM1 0L0.75 -0.25L0.5 0L0.75 0.25ZM-0.28 0L0 -0.28L0.28 0L0 0.28ZM0 -1L0.6 -0.4L0.35 -0.15L0 -0.5L-0.35 -0.15L-0.6 -0.4ZM0 1L0.6 0.4L0.35 0.15L0 0.5L-0.35 0.15L-0.6 0.4Z"},
"encoding":{"x":{"datum":{"year":2026,"month":"aug","date":30,"hours":3,"minutes":22,"utc":true},"type":"temporal"},"y":{"datum":0.009565}}},
{"data":{"values":[{"s":"@ AN TRADE CRYPTO"}]},"mark":{"type":"text","align":"left","baseline":"middle","font":"Open Sans","fontSize":24,"color":"#d4d4d4"},
"encoding":{"x":{"datum":{"year":2026,"month":"aug","date":30,"hours":18,"minutes":58,"utc":true},"type":"temporal"},"y":{"datum":0.00957},"text":{"field":"s"}}}
]
}
